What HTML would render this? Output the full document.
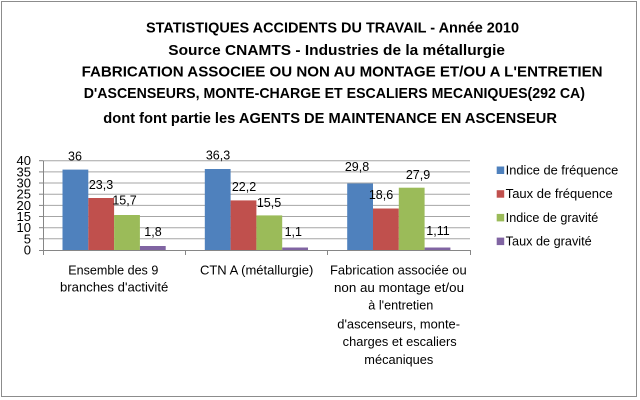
<!DOCTYPE html>
<html>
<head>
<meta charset="utf-8">
<style>
html,body{margin:0;padding:0;background:#fff;}
svg{display:block;}
text{font-family:"Liberation Sans",Arial,sans-serif;fill:#000;}
</style>
</head>
<body>
<svg width="640" height="400" viewBox="0 0 640 400" xmlns="http://www.w3.org/2000/svg">
<rect x="0" y="0" width="640" height="400" fill="#fff"/>
<rect x="1.5" y="1.5" width="635" height="395" fill="#fff" stroke="#8c8c8c" stroke-width="1"/>

<!-- Title -->
<g font-weight="bold" font-size="15">
<text x="146" y="32.5" textLength="373" lengthAdjust="spacingAndGlyphs">STATISTIQUES ACCIDENTS DU TRAVAIL - Année 2010</text>
<text x="168.3" y="55" textLength="336.7" lengthAdjust="spacingAndGlyphs">Source CNAMTS - Industries de la métallurgie</text>
<text x="81.6" y="76.5" textLength="521" lengthAdjust="spacingAndGlyphs">FABRICATION ASSOCIEE OU NON AU MONTAGE ET/OU A L'ENTRETIEN</text>
<text x="83.7" y="98" textLength="501.3" lengthAdjust="spacingAndGlyphs">D'ASCENSEURS, MONTE-CHARGE ET ESCALIERS MECANIQUES(292 CA)</text>
<text x="103.3" y="123" textLength="453.7" lengthAdjust="spacingAndGlyphs">dont font partie les AGENTS DE MAINTENANCE EN ASCENSEUR</text>
</g>

<!-- Gridlines -->
<g stroke="#a6a6a6" stroke-width="1">
<line x1="43" y1="238.8" x2="470" y2="238.8"/>
<line x1="43" y1="227.7" x2="470" y2="227.7"/>
<line x1="43" y1="216.5" x2="470" y2="216.5"/>
<line x1="43" y1="205.4" x2="470" y2="205.4"/>
<line x1="43" y1="194.2" x2="470" y2="194.2"/>
<line x1="43" y1="183.0" x2="470" y2="183.0"/>
<line x1="43" y1="171.9" x2="470" y2="171.9"/>
<line x1="43" y1="160.7" x2="470" y2="160.7"/>
</g>

<!-- Bars -->
<g>
<rect x="62.5" y="169.6" width="25.8" height="80.4" fill="#4F81BD"/>
<rect x="88.3" y="198" width="25.8" height="52" fill="#C0504D"/>
<rect x="114.1" y="215" width="25.8" height="35" fill="#9BBB59"/>
<rect x="139.9" y="246" width="25.8" height="4" fill="#8064A2"/>

<rect x="204.8" y="169" width="25.8" height="81" fill="#4F81BD"/>
<rect x="230.6" y="200.4" width="25.8" height="49.6" fill="#C0504D"/>
<rect x="256.4" y="215.4" width="25.8" height="34.6" fill="#9BBB59"/>
<rect x="282.2" y="247.5" width="25.8" height="2.5" fill="#8064A2"/>

<rect x="347.2" y="183.5" width="25.8" height="66.5" fill="#4F81BD"/>
<rect x="373" y="208.5" width="25.8" height="41.5" fill="#C0504D"/>
<rect x="398.8" y="187.7" width="25.8" height="62.3" fill="#9BBB59"/>
<rect x="424.6" y="247.5" width="25.8" height="2.5" fill="#8064A2"/>
</g>

<!-- Axes -->
<g stroke="#868686" stroke-width="1">
<line x1="43.5" y1="160.7" x2="43.5" y2="250.5"/>
<line x1="43" y1="250.5" x2="470.5" y2="250.5"/>
<line x1="39" y1="160.7" x2="43" y2="160.7"/>
<line x1="39" y1="171.9" x2="43" y2="171.9"/>
<line x1="39" y1="183.0" x2="43" y2="183.0"/>
<line x1="39" y1="194.2" x2="43" y2="194.2"/>
<line x1="39" y1="205.4" x2="43" y2="205.4"/>
<line x1="39" y1="216.5" x2="43" y2="216.5"/>
<line x1="39" y1="227.7" x2="43" y2="227.7"/>
<line x1="39" y1="238.8" x2="43" y2="238.8"/>
<line x1="39" y1="250.5" x2="43" y2="250.5"/>
<line x1="43.5" y1="250" x2="43.5" y2="255"/>
<line x1="185.5" y1="250" x2="185.5" y2="255"/>
<line x1="327.5" y1="250" x2="327.5" y2="255"/>
<line x1="470.5" y1="250" x2="470.5" y2="255"/>
</g>

<!-- Y tick labels -->
<g font-size="13" text-anchor="end">
<text x="31" y="165.2">40</text>
<text x="31" y="176.4">35</text>
<text x="31" y="187.5">30</text>
<text x="31" y="198.7">25</text>
<text x="31" y="209.9">20</text>
<text x="31" y="221">15</text>
<text x="31" y="232.2">10</text>
<text x="31" y="243.3">5</text>
<text x="31" y="254.5">0</text>
</g>

<!-- Data labels -->
<g font-size="12.5" text-anchor="middle">
<text x="75" y="160.5">36</text>
<text x="101" y="188.8">23,3</text>
<text x="124.5" y="204.5">15,7</text>
<text x="153" y="236.2">1,8</text>
<text x="218" y="159.5">36,3</text>
<text x="244" y="191.2">22,2</text>
<text x="269" y="207.2">15,5</text>
<text x="293.3" y="236.2">1,1</text>
<text x="357" y="171.2">29,8</text>
<text x="381" y="198.8">18,6</text>
<text x="418" y="178.8">27,9</text>
<text x="438" y="235.2">1,11</text>
</g>

<!-- Category labels -->
<g font-size="12.5">
<text x="68.3" y="274.5" textLength="90" lengthAdjust="spacingAndGlyphs">Ensemble des 9</text>
<text x="60" y="291.5" textLength="108.3" lengthAdjust="spacingAndGlyphs">branches d'activité</text>
<text x="200" y="274.5" textLength="113.3" lengthAdjust="spacingAndGlyphs">CTN A (métallurgie)</text>
<text x="330" y="274.5" textLength="136.7" lengthAdjust="spacingAndGlyphs">Fabrication associée ou</text>
<text x="334" y="292.2" textLength="130" lengthAdjust="spacingAndGlyphs">non au montage  et/ou</text>
<text x="368.3" y="309.5" textLength="65" lengthAdjust="spacingAndGlyphs">à l'entretien</text>
<text x="337.3" y="328.5" textLength="122.7" lengthAdjust="spacingAndGlyphs">d'ascenseurs, monte-</text>
<text x="342.7" y="346.2" textLength="114" lengthAdjust="spacingAndGlyphs">charges et escaliers</text>
<text x="364.3" y="363.8" textLength="69" lengthAdjust="spacingAndGlyphs">mécaniques</text>
</g>

<!-- Legend -->
<g>
<rect x="496.7" y="166.5" width="7.5" height="7.5" fill="#4F81BD"/>
<rect x="496.7" y="190.2" width="7.5" height="7.5" fill="#C0504D"/>
<rect x="496.7" y="213.9" width="7.5" height="7.5" fill="#9BBB59"/>
<rect x="496.7" y="237.6" width="7.5" height="7.5" fill="#8064A2"/>
</g>
<g font-size="12.5">
<text x="505.7" y="174.5" textLength="112.6" lengthAdjust="spacingAndGlyphs">Indice de fréquence</text>
<text x="505.7" y="198.2" textLength="107" lengthAdjust="spacingAndGlyphs">Taux de fréquence</text>
<text x="505.7" y="221.9" textLength="92.6" lengthAdjust="spacingAndGlyphs">Indice de gravité</text>
<text x="505.7" y="245.6" textLength="86" lengthAdjust="spacingAndGlyphs">Taux de gravité</text>
</g>
</svg>
</body>
</html>
